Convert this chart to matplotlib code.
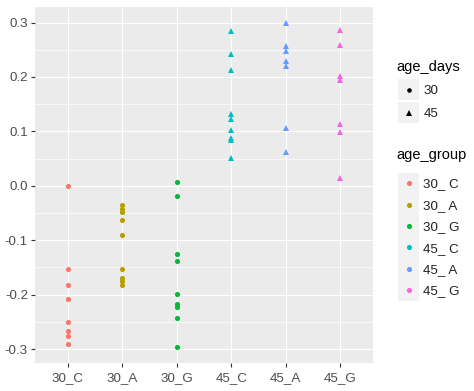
import matplotlib
matplotlib.use("Agg")
import matplotlib.pyplot as plt
from matplotlib.lines import Line2D
from matplotlib.patches import Rectangle
from matplotlib.legend_handler import HandlerBase

plt.rcParams['font.family'] = ['Liberation Sans', 'DejaVu Sans']

categories = ["30_C", "30_A", "30_G", "45_C", "45_A", "45_G"]
legend_labels = ["30_ C", "30_ A", "30_ G", "45_ C", "45_ A", "45_ G"]
age_days = ["30", "30", "30", "45", "45", "45"]
colors = ["#F8766D", "#B79F00", "#00BA38", "#00BFC4", "#619CFF", "#F564E3"]

v_30_C = [0.0, -0.152, -0.182, -0.208, -0.251, -0.266, -0.276, -0.291]
v_30_A = [-0.036, -0.042, -0.048, -0.062, -0.091, -0.153, -0.170, -0.175, -0.183]
v_30_G = [0.007, -0.019, -0.126, -0.138, -0.199, -0.218, -0.222, -0.243, -0.297]
v_45_C = [0.284, 0.243, 0.213, 0.132, 0.122, 0.102, 0.088, 0.084, 0.052]
v_45_A = [0.300, 0.257, 0.247, 0.229, 0.221, 0.107, 0.063]
v_45_G = [0.287, 0.259, 0.201, 0.195, 0.114, 0.099, 0.015]
values = [v_30_C, v_30_A, v_30_G, v_45_C, v_45_A, v_45_G]

yticks = [-0.3, -0.2, -0.1, 0.0, 0.1, 0.2, 0.3]
ytick_labels = ["-0.3", "-0.2", "-0.1", "0.0", "0.1", "0.2", "0.3"]

markers = {"30": "o", "45": "^"}
msize = {"30": 3.7, "45": 4.3}

W, H = 474, 391
fig = plt.figure(figsize=(W / 100, H / 100), dpi=100)
ax = fig.add_axes([35 / W, 1 - 363 / H, (373 - 35) / W, (363 - 7) / H])
ax.set_facecolor("#EBEBEB")

for i, (cat, vals) in enumerate(zip(categories, values)):
    d = age_days[i]
    ax.plot([i + 1] * len(vals), vals, linestyle="none", marker=markers[d],
            markersize=msize[d], color=colors[i], markeredgewidth=0, zorder=3)

ax.set_xlim(0.4, 6.6)
ax.set_ylim(-0.3255, 0.3285)
ax.set_xticks(range(1, 7))
ax.set_xticklabels(categories)
ax.set_yticks(yticks)
ax.set_yticklabels(ytick_labels)
ax.set_yticks([-0.25, -0.15, -0.05, 0.05, 0.15, 0.25], minor=True)
ax.grid(True, which="major", color="white", linewidth=0.85)
ax.grid(True, which="minor", axis="y", color="white", linewidth=0.45)
ax.set_axisbelow(True)
for s in ax.spines.values():
    s.set_visible(False)
ax.tick_params(axis="both", which="major", length=2.6, width=0.8, color="#333333",
               labelcolor="#4D4D4D", labelsize=9.6, pad=2.5)
ax.tick_params(axis="x", which="major", pad=4)
ax.tick_params(axis="both", which="minor", length=0)


class KeyHandler(HandlerBase):
    def __init__(self, marker, color, ms):
        super().__init__()
        self.marker = marker
        self.color = color
        self.ms = ms

    def create_artists(self, legend, orig_handle, xdescent, ydescent, width, height, fontsize, trans):
        r = Rectangle((-xdescent, -ydescent), width, height, facecolor="#F2F2F2",
                      edgecolor="none", transform=trans)
        ln = Line2D([width / 2 - xdescent], [height / 2 - ydescent], linestyle="none",
                    marker=self.marker, markersize=self.ms, color=self.color,
                    markeredgewidth=0, transform=trans)
        return [r, ln]


fig.text(396 / W, 1 - 67 / H, "age_days", fontsize=10.5, color="black",
         ha="left", va="center")
fig.text(396 / W, 1 - 155 / H, "age_group", fontsize=10.5, color="black",
         ha="left", va="center")

h1 = [Line2D([], []) for _ in range(2)]
hm1 = {h1[0]: KeyHandler("o", "black", 3.3), h1[1]: KeyHandler("^", "black", 4.0)}
leg1 = fig.legend(h1, ["30", "45"], handler_map=hm1,
                  loc="upper left", bbox_to_anchor=(398 / W, 1 - 79 / H),
                  frameon=False, fontsize=9.6,
                  handlelength=1.6, handleheight=2.08, labelspacing=0.13,
                  handletextpad=0.3, borderpad=0, borderaxespad=0)
for t in leg1.get_texts():
    t.set_color("#222222")

h2 = [Line2D([], []) for _ in range(6)]
hm2 = {h: KeyHandler("o", c, 3.7) for h, c in zip(h2, colors)}
leg2 = fig.legend(h2, legend_labels, handler_map=hm2,
                  loc="upper left", bbox_to_anchor=(398 / W, 1 - 172.5 / H),
                  frameon=False, fontsize=9.6,
                  handlelength=1.6, handleheight=2.08, labelspacing=0.01,
                  handletextpad=0.3, borderpad=0, borderaxespad=0)
for t in leg2.get_texts():
    t.set_color("#222222")

fig.savefig("out.png", dpi=100, facecolor="white")
